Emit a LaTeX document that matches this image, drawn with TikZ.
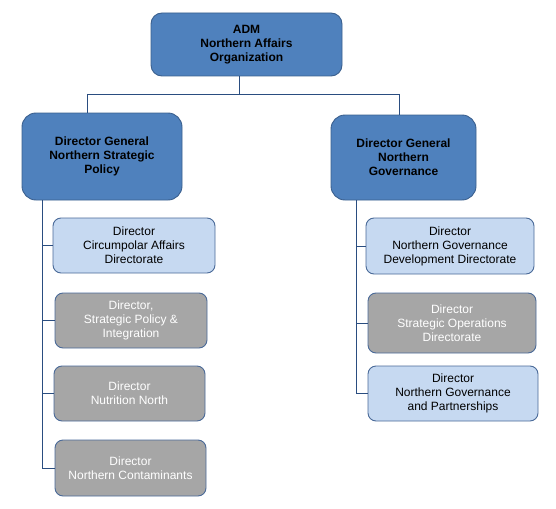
\documentclass[tikz,border=0pt]{standalone}
\usepackage{fontspec}
\setmainfont{Liberation Sans}
\usepackage{tikz}
\definecolor{darkfill}{HTML}{4F81BD}
\definecolor{darkrim}{HTML}{3A5F8E}
\definecolor{lightfill}{HTML}{C6D9F1}
\definecolor{greyfill}{HTML}{A6A6A6}
\definecolor{rim}{HTML}{4A6A98}
\definecolor{linecol}{HTML}{2A4D80}
\tikzstyle{topbox}=[rectangle,rounded corners=11pt,fill=darkfill,draw=darkrim,line width=0.9pt,align=center,font=\bfseries\fontsize{12}{14}\selectfont,inner sep=0pt]
\tikzstyle{dgbox}=[topbox,rounded corners=14pt]
\tikzstyle{lightbox}=[rectangle,rounded corners=8pt,fill=lightfill,draw=rim,line width=0.9pt,align=center,font=\fontsize{12}{14}\selectfont,inner sep=0pt]
\tikzstyle{greybox}=[rectangle,rounded corners=8pt,fill=greyfill,draw=rim,line width=0.9pt,align=center,text=white,font=\fontsize{12}{14}\selectfont,inner sep=0pt]
\tikzstyle{edge} = [draw,line width=0.9pt,linecol]

\begin{document}
\begin{tikzpicture}[x=1pt,y=-1pt]

    \useasboundingbox (0,0) rectangle (556,508);

    \foreach \x/\y/\w/\h/\name/\kind/\txt in {
        246.5/44.5/191/63/adm/topbox/{ADM\\Northern Affairs\\Organization},
        102/156.5/160/87/dgl/dgbox/{Director General\\Northern Strategic\\Policy},
        403.5/157.5/145/85/dgr/dgbox/{Director General\\Northern\\Governance},
        134/245.5/162/55/circ/lightbox/{Director\\Circumpolar Affairs\\Directorate},
        131/320.5/152/55/spi/greybox/{Director,\\Strategic Policy \&\\Integration},
        129.5/393.5/151/55/nutr/greybox/{Director\\Nutrition North},
        130.5/468/151/56/cont/greybox/{Director\\Northern Contaminants},
        450/246/168/56/ngdd/lightbox/{Director\\Northern Governance\\Development Directorate},
        452/323/168/60/sops/greybox/{Director\\Strategic Operations\\Directorate},
        453/393.5/170/55/ngp/lightbox/{Director\\Northern Governance\\and Partnerships}}
        \node[\kind, minimum width=\w pt, minimum height=\h pt] (\name) at (\x, \y) {\txt};

    \coordinate (busm) at (239,94);
    \coordinate (busl) at (87,94);
    \coordinate (busr) at (399,94);
    \coordinate (trunkl) at (42,0);
    \coordinate (trunkr) at (356,0);

    \path[edge] (adm.south -| busm) -- (busm);
    \path[edge] (busl) -- (busr);
    \path[edge] (busl) -- (busl |- dgl.north);
    \path[edge] (busr) -- (busr |- dgr.north);

    \path[edge] (dgl.south -| trunkl) -- (trunkl |- cont.west);
    \foreach \dest in {circ, spi, nutr, cont}
        \path[edge] (trunkl |- \dest.west) -- (\dest.west);

    \path[edge] (dgr.south -| trunkr) -- (trunkr |- ngp.west);
    \foreach \dest in {ngdd, sops, ngp}
        \path[edge] (trunkr |- \dest.west) -- (\dest.west);

\end{tikzpicture}
\end{document}
